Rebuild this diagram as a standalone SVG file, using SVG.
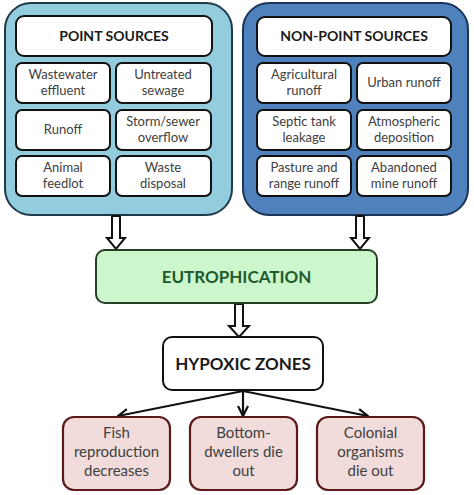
<svg xmlns="http://www.w3.org/2000/svg" width="474" height="495" viewBox="0 0 474 495">
<defs>
<style>
text{font-family:Lato,"Open Sans","Liberation Sans",sans-serif;fill:#404040;text-anchor:middle;font-size:13px}
.title{font-weight:bold;fill:#1a1a1a;font-size:14px}
.big{font-size:15px}
.cell{fill:#ffffff;stroke:#111111;stroke-width:2}
.blk{fill:#ffffff;stroke:#111111;stroke-width:2;stroke-linejoin:miter}
.eff{fill:#f2dcdb;stroke:#5a1a1a;stroke-width:2.2}
.ln{stroke:#111111;stroke-width:2.2;fill:none}
</style>
<marker id="ah" viewBox="0 0 12 12" refX="11" refY="6" markerWidth="12" markerHeight="12" markerUnits="userSpaceOnUse" orient="auto">
<path d="M1,1 L11,6 L1,11" fill="none" stroke="#111111" stroke-width="2.2"/>
</marker>
</defs>
<rect width="474" height="495" fill="#ffffff"/>

<g id="point-sources">
<rect x="5" y="3" width="227" height="212" rx="26" fill="#93cddd" stroke="#1f3a4a" stroke-width="2"/>
<rect class="cell" x="16" y="16" width="196" height="40" rx="8"/>
<text class="title" x="114" y="41">POINT SOURCES</text>
<rect class="cell" x="16" y="63" width="94" height="40" rx="6"/>
<text x="63" y="79">Wastewater</text><text x="63" y="95">effluent</text>
<rect class="cell" x="116" y="63" width="95" height="40" rx="6"/>
<text x="163" y="79">Untreated</text><text x="163" y="95">sewage</text>
<rect class="cell" x="16" y="110" width="94" height="40" rx="6"/>
<text x="63" y="134">Runoff</text>
<rect class="cell" x="116" y="110" width="95" height="40" rx="6"/>
<text x="163" y="126">Storm/sewer</text><text x="163" y="142">overflow</text>
<rect class="cell" x="16" y="156" width="94" height="40" rx="6"/>
<text x="63" y="172">Animal</text><text x="63" y="188">feedlot</text>
<rect class="cell" x="116" y="156" width="95" height="40" rx="6"/>
<text x="163" y="172">Waste</text><text x="163" y="188">disposal</text>
</g>

<g id="non-point-sources">
<rect x="243" y="3" width="225" height="212" rx="26" fill="#4f81bd" stroke="#1b3557" stroke-width="2"/>
<rect class="cell" x="257" y="17" width="194" height="39" rx="8"/>
<text class="title" x="354" y="41">NON-POINT SOURCES</text>
<rect class="cell" x="257" y="63" width="94" height="40" rx="6"/>
<text x="304" y="79">Agricultural</text><text x="304" y="95">runoff</text>
<rect class="cell" x="357" y="63" width="94" height="40" rx="6"/>
<text x="404" y="87">Urban runoff</text>
<rect class="cell" x="257" y="110" width="94" height="40" rx="6"/>
<text x="304" y="126">Septic tank</text><text x="304" y="142">leakage</text>
<rect class="cell" x="357" y="110" width="94" height="40" rx="6"/>
<text x="404" y="126">Atmospheric</text><text x="404" y="142">deposition</text>
<rect class="cell" x="257" y="156" width="94" height="40" rx="6"/>
<text x="304" y="172">Pasture and</text><text x="304" y="188">range runoff</text>
<rect class="cell" x="357" y="156" width="94" height="40" rx="6"/>
<text x="404" y="172">Abandoned</text><text x="404" y="188">mine runoff</text>
</g>

<g id="connectors">
<path class="blk" d="M112,216 L120,216 L120,238 L125,238 L116,249 L107,238 L112,238 Z"/>
<path class="blk" d="M356,216 L364,216 L364,238 L369,238 L360,249 L351,238 L356,238 Z"/>
<path class="blk" d="M235,304 L243,304 L243,326 L249,326 L239,337 L229,326 L235,326 Z"/>
<line class="ln" x1="243" y1="391" x2="118" y2="416" marker-end="url(#ah)"/>
<line class="ln" x1="243" y1="391" x2="243" y2="416" marker-end="url(#ah)"/>
<line class="ln" x1="243" y1="391" x2="368" y2="416" marker-end="url(#ah)"/>
</g>

<g id="eutrophication">
<rect x="96" y="250" width="281" height="53" rx="9" fill="#ccf7cc" stroke="#263d26" stroke-width="2"/>
<text x="236.5" y="283" style="font-weight:bold;font-size:17px;fill:#1d5a2c">EUTROPHICATION</text>
</g>

<g id="hypoxic-zones">
<rect class="cell" x="163" y="337" width="160" height="53" rx="9"/>
<text class="title" x="243" y="370" style="font-size:17px">HYPOXIC ZONES</text>
</g>

<g id="fish">
<rect class="eff" x="63" y="417" width="107" height="73" rx="11"/>
<text class="big" x="116.5" y="438">Fish</text><text class="big" x="116.5" y="457">reproduction</text><text class="big" x="116.5" y="476">decreases</text>
</g>
<g id="bottom-dwellers">
<rect class="eff" x="190" y="417" width="107" height="73" rx="11"/>
<text class="big" x="243.5" y="438">Bottom-</text><text class="big" x="243.5" y="457">dwellers die</text><text class="big" x="243.5" y="476">out</text>
</g>
<g id="colonial">
<rect class="eff" x="317" y="417" width="107" height="73" rx="11"/>
<text class="big" x="370.5" y="438">Colonial</text><text class="big" x="370.5" y="457">organisms</text><text class="big" x="370.5" y="476">die out</text>
</g>
</svg>
